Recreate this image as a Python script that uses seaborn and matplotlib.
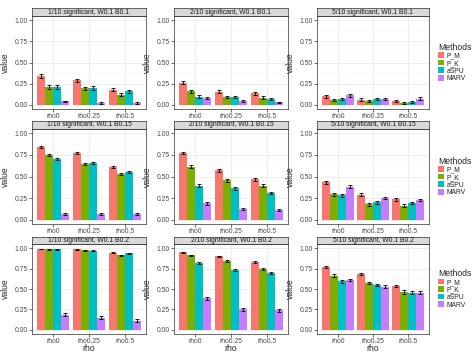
import matplotlib
matplotlib.use('Agg')
import matplotlib.pyplot as plt
import numpy as np
import pandas as pd
import seaborn as sns

# -----------------------------------------------------------------------------
#         Data
# -----------------------------------------------------------------------------
rhos = ['rho0', 'rho0.25', 'rho0.5']
methods = ['P_M', 'P_K', 'aSPU', 'MARV']
palette = ['#F8766D', '#7CAE00', '#00BFC4', '#C77CFF']

titles = [
    '1/10 significant, W0.1 B0.1', '2/10 significant, W0.1 B0.1', '5/10 significant, W0.1 B0.1',
    '1/10 significant, W0.1 B0.15', '2/10 significant, W0.1 B0.15', '5/10 significant, W0.1 B0.15',
    '1/10 significant, W0.1 B0.2', '2/10 significant, W0.1 B0.2', '5/10 significant, W0.1 B0.2',
]

# one row per rho, columns in order of `methods`
vals_1_b010 = [[0.34, 0.21, 0.21, 0.04], [0.29, 0.195, 0.20, 0.02], [0.18, 0.12, 0.16, 0.02]]
vals_2_b010 = [[0.26, 0.16, 0.095, 0.078], [0.156, 0.09, 0.094, 0.047], [0.137, 0.086, 0.066, 0.027]]
vals_5_b010 = [[0.10, 0.055, 0.07, 0.113], [0.06, 0.047, 0.074, 0.07], [0.04, 0.02, 0.03, 0.074]]
vals_1_b015 = [[0.84, 0.75, 0.705, 0.067], [0.77, 0.64, 0.66, 0.063], [0.606, 0.53, 0.555, 0.063]]
vals_2_b015 = [[0.768, 0.614, 0.394, 0.19], [0.57, 0.457, 0.362, 0.126], [0.468, 0.394, 0.307, 0.114]]
vals_5_b015 = [[0.433, 0.295, 0.283, 0.382], [0.287, 0.177, 0.20, 0.252], [0.236, 0.161, 0.193, 0.228]]
vals_1_b020 = [[0.99, 0.984, 0.984, 0.185], [0.984, 0.972, 0.968, 0.15], [0.945, 0.913, 0.937, 0.114]]
vals_2_b020 = [[0.949, 0.913, 0.819, 0.386], [0.90, 0.846, 0.736, 0.252], [0.83, 0.748, 0.693, 0.24]]
vals_5_b020 = [[0.772, 0.665, 0.594, 0.61], [0.685, 0.575, 0.547, 0.528], [0.535, 0.46, 0.453, 0.457]]

errs_1_b010 = [[0.02, 0.02, 0.02, 0.01], [0.02, 0.02, 0.02, 0.01], [0.02, 0.02, 0.02, 0.01]]
errs_2_b010 = [[0.02, 0.02, 0.015, 0.015], [0.015, 0.015, 0.015, 0.012], [0.018, 0.015, 0.015, 0.01]]
errs_5_b010 = [[0.018, 0.012, 0.015, 0.018], [0.015, 0.012, 0.012, 0.015], [0.012, 0.01, 0.01, 0.015]]
errs_1_b015 = [[0.01, 0.012, 0.013, 0.012], [0.01, 0.012, 0.012, 0.012], [0.013, 0.015, 0.014, 0.012]]
errs_2_b015 = [[0.01, 0.015, 0.016, 0.018], [0.013, 0.015, 0.015, 0.015], [0.016, 0.016, 0.015, 0.015]]
errs_5_b015 = [[0.02, 0.017, 0.017, 0.02], [0.017, 0.015, 0.015, 0.016], [0.018, 0.015, 0.017, 0.017]]
errs_1_b020 = [[0.004, 0.005, 0.005, 0.017], [0.005, 0.006, 0.006, 0.017], [0.006, 0.007, 0.006, 0.015]]
errs_2_b020 = [[0.006, 0.008, 0.01, 0.018], [0.008, 0.01, 0.012, 0.016], [0.01, 0.012, 0.013, 0.016]]
errs_5_b020 = [[0.014, 0.016, 0.016, 0.016], [0.014, 0.016, 0.016, 0.016], [0.016, 0.022, 0.02, 0.016]]

panel_vals = [vals_1_b010, vals_2_b010, vals_5_b010,
              vals_1_b015, vals_2_b015, vals_5_b015,
              vals_1_b020, vals_2_b020, vals_5_b020]
panel_errs = [errs_1_b010, errs_2_b010, errs_5_b010,
              errs_1_b015, errs_2_b015, errs_5_b015,
              errs_1_b020, errs_2_b020, errs_5_b020]

y_ticks = [0.0, 0.25, 0.5, 0.75, 1.0]
y_ticklabels = ['0.00', '0.25', '0.50', '0.75', '1.00']

df = pd.DataFrame([
    {'panel': p, 'rho': rho, 'method': m,
     'value': panel_vals[p][j][i], 'err': panel_errs[p][j][i]}
    for p in range(len(titles))
    for j, rho in enumerate(rhos)
    for i, m in enumerate(methods)
])

# -----------------------------------------------------------------------------
#         Plot
# -----------------------------------------------------------------------------
sns.set_style('white')
plt.rcParams['font.family'] = ['Liberation Sans', 'DejaVu Sans']

W, H = 474, 353
fig = plt.figure(figsize=(W / 100, H / 100), dpi=100)

col_x = [(32, 146), (174, 288), (317, 429)]
row_y = [(8, 16, 109), (121, 129, 224), (237, 244, 334)]  # strip top, panel top, panel bottom

grey20 = '#333333'
grey30 = '#4D4D4D'


def px_axes(x0, x1, y0, y1):
    return fig.add_axes([x0 / W, 1 - y1 / H, (x1 - x0) / W, (y1 - y0) / H])


for p, title in enumerate(titles):
    r, c = divmod(p, 3)
    x0, x1 = col_x[c]
    s0, y0, y1 = row_y[r]

    ax = px_axes(x0, x1, y0, y1)
    sub = df[df['panel'] == p]
    sns.barplot(
        data=sub, x='rho', y='value', hue='method',
        order=rhos, hue_order=methods, palette=palette,
        width=0.9, saturation=1, errorbar=None, linewidth=0,
        legend=(c == 2), ax=ax, zorder=2,
    )

    # error bars from the drawn bar centres
    for m, container in zip(methods, ax.containers):
        e = sub[sub['method'] == m].set_index('rho').loc[rhos, 'err'].values
        xs = [b.get_x() + b.get_width() / 2 for b in container]
        ys = [b.get_height() for b in container]
        ax.errorbar(xs, ys, yerr=e, fmt='none', ecolor='black',
                    elinewidth=0.6, capsize=1.2, capthick=0.6, zorder=3)

    ax.set_xlim(-0.6, 2.6)
    ax.set_ylim(-0.05, 1.05)
    ax.set_yticks(y_ticks)
    ax.set_yticklabels(y_ticklabels)
    ax.set_yticks([0.125, 0.375, 0.625, 0.875], minor=True)
    ax.grid(which='major', color='#EBEBEB', linewidth=0.6, zorder=0)
    ax.grid(which='minor', axis='y', color='#F2F2F2', linewidth=0.35, zorder=0)
    ax.set_axisbelow(True)
    ax.tick_params(axis='both', which='major', labelsize=4.9, colors=grey20,
                   labelcolor=grey30, length=2, width=0.5, pad=1.0,
                   bottom=True, left=True)
    ax.tick_params(which='minor', length=0)
    for sp in ax.spines.values():
        sp.set_color(grey20)
        sp.set_linewidth(0.5)
    ax.set_ylabel('value', fontsize=6.2, labelpad=3)
    ax.set_xlabel('rho' if r == 2 else '', fontsize=6.2, labelpad=-1)

    if c == 2:
        sns.move_legend(
            ax, 'center left', bbox_to_anchor=(1.08, 0.5), title='Methods',
            frameon=False, fontsize=4.9, title_fontsize=6.2,
            handlelength=0.9, handleheight=0.9, handletextpad=0.4,
            labelspacing=0.05, borderaxespad=0, borderpad=0,
        )
        ax.get_legend()._legend_box.align = 'left'

    # facet strip
    sax = px_axes(x0, x1, s0, y0)
    sax.set_facecolor('#D9D9D9')
    sax.set_xticks([])
    sax.set_yticks([])
    for sp in sax.spines.values():
        sp.set_color(grey20)
        sp.set_linewidth(0.5)
    sax.text(0.5, 0.5, title, ha='center', va='center', fontsize=4.9,
             color='#1A1A1A', transform=sax.transAxes)

fig.savefig('out.png', dpi=100)
